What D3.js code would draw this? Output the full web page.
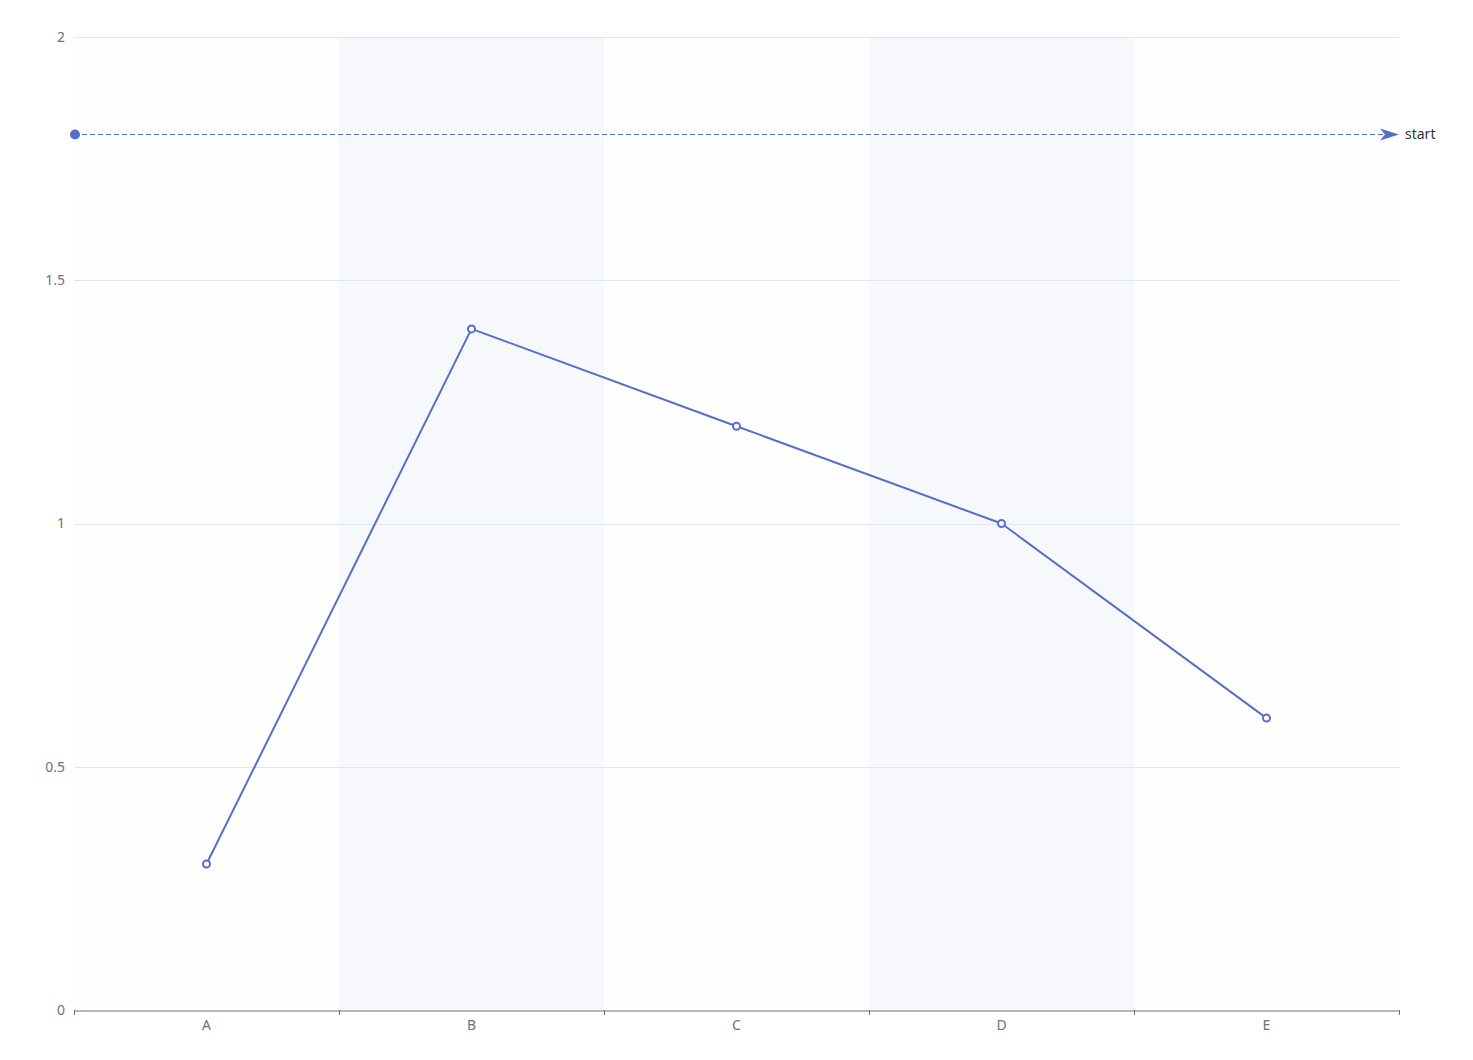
<!DOCTYPE html>
<html><head><meta charset="utf-8">
<script src="https://cdn.jsdelivr.net/npm/d3@7/dist/d3.min.js"></script>
<style>body{margin:0;background:#fff;}svg{display:block;font-family:"Noto Sans",sans-serif;}</style>
</head><body>
<svg id="c" width="1473" height="1060"></svg>
<script>
const categories = ["A","B","C","D","E"];
const values = [0.3, 1.4, 1.2, 1.0, 0.6];
const yTicks = [0, 0.5, 1, 1.5, 2];
const markValue = 1.8;
const markLabel = "start";

const svg = d3.select("#c");
const L = 74, R = 1399, T = 37, B = 1010;
const x = d3.scaleBand().domain(categories).range([L, R]);
const y = d3.scaleLinear().domain([0, 2]).range([B, T]);

// split areas
svg.append("g").selectAll("rect").data(categories).join("rect")
  .attr("x", d => x(d)).attr("y", T).attr("width", x.bandwidth()).attr("height", B - T)
  .attr("fill", (d, i) => i % 2 ? "rgba(210,219,238,0.2)" : "rgba(250,250,250,0.2)");

// split lines
svg.append("g").selectAll("line").data(yTicks.filter(t => t > 0)).join("line")
  .attr("x1", L).attr("x2", R).attr("y1", d => Math.round(y(d)) + 0.5).attr("y2", d => Math.round(y(d)) + 0.5)
  .attr("stroke", "#E0E6F1").attr("stroke-width", 1);

// y axis labels
const ya = svg.append("g").attr("transform", `translate(${L},0)`)
  .call(d3.axisLeft(y).tickValues(yTicks).tickSize(0).tickPadding(9).tickFormat(d3.format("")));
ya.select(".domain").remove();
ya.selectAll("text").attr("fill", "#6E7079").style("font-size", "14px").style("font-family", "'Noto Sans',sans-serif");

// x axis
const xa = svg.append("g").attr("transform", `translate(0,${B + 0.5})`)
  .call(d3.axisBottom(x).tickSize(0).tickPadding(10));
xa.select(".domain").attr("stroke", "#6E7079");
xa.selectAll("text").attr("fill", "#6E7079").style("font-size", "14px").style("font-family", "'Noto Sans',sans-serif");
const bounds = categories.map(c => x(c)).concat([R]);
svg.append("g").selectAll("line").data(bounds).join("line")
  .attr("x1", d => Math.round(d) + 0.5).attr("x2", d => Math.round(d) + 0.5)
  .attr("y1", B).attr("y2", B + 5).attr("stroke", "#6E7079");

// line
const pts = categories.map((c, i) => [x(c) + x.bandwidth() / 2, y(values[i])]);
svg.append("path").attr("d", d3.line()(pts)).attr("fill", "none")
  .attr("stroke", "#5470c6").attr("stroke-width", 2).attr("stroke-linejoin", "round");
svg.append("g").selectAll("circle").data(pts).join("circle")
  .attr("cx", d => d[0]).attr("cy", d => d[1]).attr("r", 3.5)
  .attr("fill", "#fff").attr("stroke", "#5470c6").attr("stroke-width", 2);

// mark line
const my = Math.round(y(markValue)) + 0.5;
svg.append("line").attr("x1", L).attr("x2", R - 10).attr("y1", my).attr("y2", my)
  .attr("stroke", "#5470c6").attr("stroke-width", 1).attr("stroke-dasharray", "5,3");
svg.append("circle").attr("cx", L + 1).attr("cy", my).attr("r", 5).attr("fill", "#5470c6");
svg.append("path")
  .attr("d", `M${R},${my} L${R - 19},${my - 6} L${R - 14},${my} L${R - 19},${my + 6} Z`)
  .attr("fill", "#5470c6");
svg.append("text").attr("x", R + 6).attr("y", my).attr("dy", "0.35em")
  .attr("fill", "#333").style("font-size", "14px").text(markLabel);
</script>
</body></html>
